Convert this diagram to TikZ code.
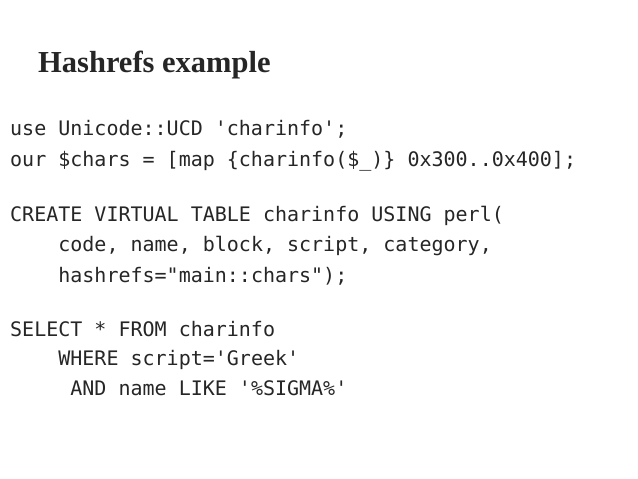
\documentclass[tikz,border=0pt]{standalone}
\usepackage{fontspec}
\setmainfont{Liberation Serif}
\newfontfamily\codefont{DejaVu Sans Mono}
\begin{document}
\begin{tikzpicture}[x=1pt,y=-1pt,
  codeline/.style={anchor=base west,inner sep=0pt,font=\codefont\fontsize{20}{20}\selectfont,text=black!85},
  titlestyle/.style={anchor=base west,inner sep=0pt,font=\bfseries\fontsize{30.5}{30.5}\selectfont,text=black!85}]
\useasboundingbox[fill=white] (0,0) rectangle (638,479);
\node[titlestyle] (t) at (38,72) {Hashrefs example};
\node[codeline] (l1) at (10,135) {use Unicode::UCD 'charinfo';};
\node[codeline] (l2) at (10,166) {our \$chars = [map \{charinfo(\$\_)\} 0x300..0x400];};
\node[codeline] (l3) at (10,221) {CREATE VIRTUAL TABLE charinfo USING perl(};
\node[codeline] (l4) at (10,251) {\ \ \ \ code, name, block, script, category,};
\node[codeline] (l5) at (10,282) {\ \ \ \ hashrefs="main::chars");};
\node[codeline] (l6) at (10,336) {SELECT * FROM charinfo};
\node[codeline] (l7) at (10,365) {\ \ \ \ WHERE script='Greek'};
\node[codeline] (l8) at (10,395) {\ \ \ \ \ AND name LIKE '\%SIGMA\%'};
\end{tikzpicture}
\end{document}
